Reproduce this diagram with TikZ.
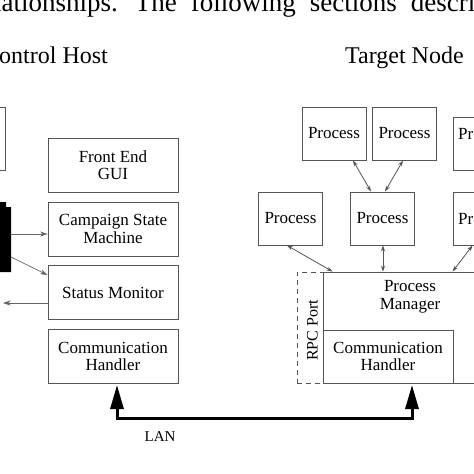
\documentclass[tikz,border=0pt]{standalone}
\usepackage{fontspec}
\setmainfont{Liberation Serif}
\usetikzlibrary{arrows.meta,calc}
\definecolor{boxline}{RGB}{85,85,85}
\definecolor{arrgray}{RGB}{100,100,100}
\begin{document}
\begin{tikzpicture}[x=1pt,y=-1pt,
  box/.style={draw=boxline,line width=0.9pt,inner sep=0pt,align=center,fill=white,
    font=\fontsize{17}{17.5}\selectfont},
  lbox/.style={box,minimum width=130pt,minimum height=54pt},
  pbox/.style={box,minimum width=64pt,minimum height=53pt},
  big/.style={inner sep=0pt,font=\fontsize{24}{28}\selectfont},
  garrow/.style={draw=arrgray,line width=0.7pt,-{Stealth[length=7.5pt,width=5pt]}},
  darrow/.style={draw=boxline,line width=0.8pt,{Stealth[length=6pt,width=4pt]}-{Stealth[length=6pt,width=4pt]}},
  lan/.style={draw=black,line width=3pt,-{Triangle[length=24pt,width=13pt]}}]
\useasboundingbox (0,0) rectangle (474,474);
\clip (0,0) rectangle (474,474);
% running text and titles
\node[inner sep=0pt,anchor=base west,font=\fontsize{27}{30}\selectfont] (runtext) at (-6,11)
  {lationships.\hspace{17pt}The\hspace{14pt}following\hspace{14pt}sections\hspace{14pt}descri};
\node[big,anchor=base west] (ctitle) at (-1,63) {ontrol Host};
\node[big,anchor=base west] (ttitle) at (345,63) {Target Node};
% control host
\node[box,minimum width=40pt,minimum height=63pt] (cut) at (-14.5,138.5) {};
\path[fill=black] (-2,202) -- (6,202) -- (6,207) -- (11,207) -- (11,272) -- (-2,272) -- cycle;
\coordinate (bk1) at (11,234);
\coordinate (bk2) at (11,257);
\coordinate (outl) at (3,303);
\node[lbox] (fe) at (113,165) {Front End\\GUI};
\node[lbox] (csm) at (113,229) {Campaign State\\Machine};
\node[lbox] (sm) at (113,292.5) {Status Monitor};
\node[lbox] (lch) at (113,356.5) {Communication\\Handler};
\draw[garrow] (bk1) -- (csm.west |- bk1);
\draw[garrow] (bk2) -- ([yshift=-10pt]sm.north west);
\draw[garrow] ([yshift=-10.5pt]sm.west) -- (outl);
% target node
\node[pbox] (p1) at (334,133.5) {Process};
\node[pbox] (p2) at (404.5,133.5) {Process};
\node[pbox] (prt) at (485,143.5) {};
\node[inner sep=0pt,anchor=base west,font=\fontsize{17}{17.5}\selectfont] (prtl) at (458,139) {Pr};
\node[pbox] (pl) at (290.5,218.5) {Process};
\node[pbox] (pc) at (382.5,218.5) {Process};
\node[pbox] (prm) at (485,218.5) {};
\node[inner sep=0pt,anchor=base west,font=\fontsize{17}{17.5}\selectfont] (prml) at (458,224) {Pr};
\node[draw=boxline,dashed,dash pattern=on 5pt off 4pt,line width=0.8pt,minimum width=26pt,minimum height=111pt,inner sep=0pt] (rpc) at (310,327.5) {};
\node[rotate=90,inner sep=0pt,font=\fontsize{16}{17}\selectfont] (rpcl) at (312.5,330.5) {RPC Port};
\node[box,minimum width=174pt,minimum height=111pt] (pm) at (410,327.5) {};
\node[inner sep=0pt,align=center,font=\fontsize{17}{17.5}\selectfont] (pml) at (410,297) {Process\\Manager};
\node[box,minimum width=130pt,minimum height=53pt] (rch) at (388,356.5) {Communication\\Handler};
\draw[darrow] ([xshift=19pt]p1.south) -- ([xshift=-11.5pt]pc.north);
\draw[darrow] ([xshift=-1.5pt]p2.south) -- ([xshift=2.5pt]pc.north);
\draw[darrow] ([xshift=-3.5pt]pl.south) -- ([xshift=10pt]pm.north west);
\draw[darrow] ([xshift=0.5pt]pc.south) -- ([xshift=0.5pt]pc.south |- pm.north);
\draw[darrow] ([xshift=20pt]prm.south west) -- ([xshift=130pt]pm.north west);
% LAN
\coordinate (lanl) at (117,418);
\coordinate (lanr) at (412,418);
\draw[lan] (lanl) -- ([xshift=4pt]lch.south |- 0,385);
\draw[lan] (lanr) -- ([xshift=24pt]rch.south |- 0,385);
\draw[draw=black,line width=3pt,line cap=rect] (lanl) -- (lanr);
\node[inner sep=0pt,font=\fontsize{15}{17}\selectfont] (lan) at (160,437) {LAN};
\end{tikzpicture}
\end{document}
